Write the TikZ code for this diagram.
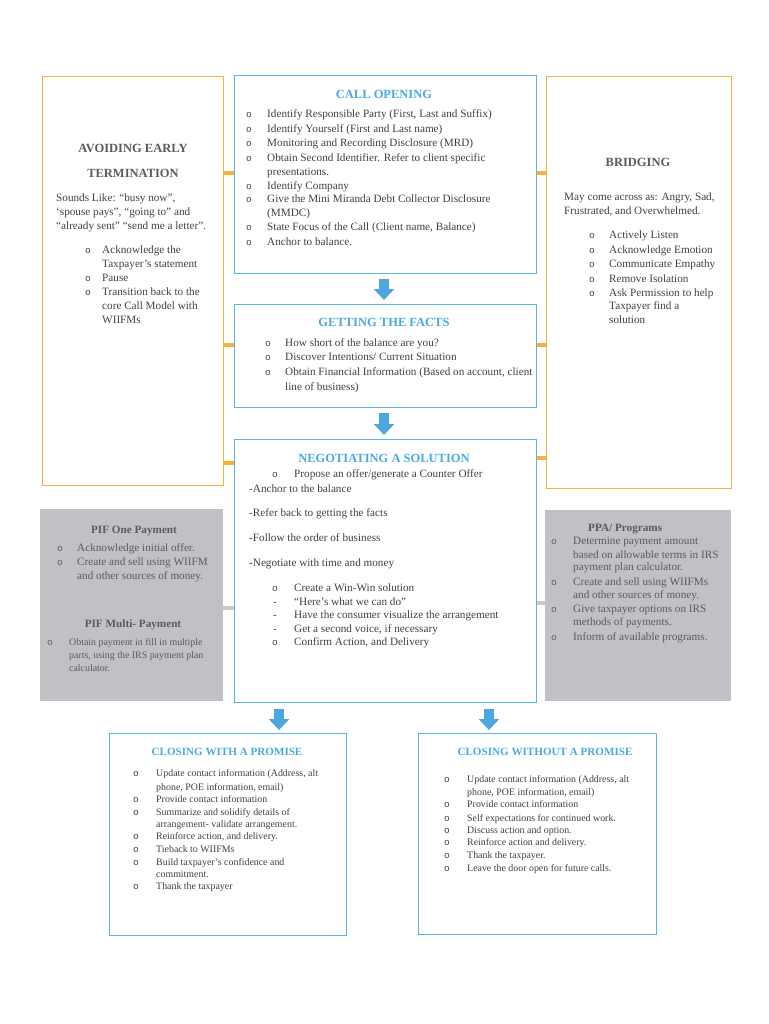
\documentclass[tikz,border=0pt]{standalone}
\usepackage{fontspec}
\setmainfont{Liberation Serif}
\newfontfamily\bulletfont{Liberation Mono}
\usetikzlibrary{arrows.meta}
\definecolor{orng}{HTML}{F4B43C}
\definecolor{bord}{HTML}{5AB4E6}
\definecolor{ttlblue}{HTML}{4AAAE0}
\definecolor{arrblue}{HTML}{4BA7DD}
\definecolor{gfill}{HTML}{C0C0C5}
\definecolor{gtick}{HTML}{C8C8CC}
\definecolor{body}{HTML}{404040}
\definecolor{gtitle}{HTML}{5A5A64}
\newcounter{tnum}
\tikzset{
  txt/.style={anchor=base west, inner sep=0pt, text=body, font=\fontsize{11.2}{13}\selectfont},
  sml/.style={font=\fontsize{9.9}{11}\selectfont},
  ttl/.style={anchor=base, inner sep=0pt, font=\bfseries\fontsize{12.5}{14}\selectfont},
  subttl/.style={font=\bfseries\fontsize{11.2}{13}\selectfont},
  obox/.style={draw=orng, line width=0.9pt, anchor=north west, inner sep=0pt},
  bbox/.style={draw=bord, line width=0.9pt, anchor=north west, inner sep=0pt},
  gbox/.style={fill=gfill, draw=none, anchor=north west, inner sep=0pt},
  otick/.style={draw=orng, line width=4pt},
  gtk/.style={draw=gtick, line width=4pt},
  barrow/.style={draw=arrblue, line width=10pt, -{Triangle[width=20pt,length=11pt]}}
}
\newcommand\putline[4][]{\stepcounter{tnum}\node[txt,#1] (t\thetnum) at (#2,#3+3.8) {#4};}
\newcommand\putttl[4][]{\stepcounter{tnum}\node[ttl,#1] (t\thetnum) at (#2,#3+4.3) {#4};}
\newcommand\bul{{\bulletfont\fontsize{9.5}{10}\selectfont o}}
\newcommand\bitem[5][]{\putline[#1]{#2}{#4}{\bul}\putline[#1]{#3}{#4}{#5}}
\begin{document}
\begin{tikzpicture}[x=1pt,y=-1pt]
\useasboundingbox (0,0) rectangle (768,1024);
% boxes
\node[obox, minimum width=181pt, minimum height=409pt] (avoid) at (42,76) {};
\node[bbox, minimum width=302pt, minimum height=198pt] (call) at (234,75) {};
\node[obox, minimum width=185pt, minimum height=412pt] (bridge) at (546,76) {};
\node[bbox, minimum width=302pt, minimum height=103pt] (facts) at (234,304) {};
\node[bbox, minimum width=302pt, minimum height=263pt] (neg) at (234,439) {};
\node[gbox, minimum width=183pt, minimum height=192pt] (pif) at (40,509) {};
\node[gbox, minimum width=186pt, minimum height=191pt] (ppa) at (545,510) {};
\node[bbox, minimum width=237pt, minimum height=202pt] (cwith) at (109,733) {};
\node[bbox, minimum width=238pt, minimum height=201pt] (cwo) at (418,733) {};
% connectors (ticks)
\coordinate (ya) at (0,173); \coordinate (yb) at (0,345);
\coordinate (yc) at (0,463); \coordinate (yd) at (0,458);
\coordinate (ye) at (0,608); \coordinate (yf) at (0,603);
\draw[otick] (avoid.east |- ya) -- (call.west |- ya);
\draw[otick] (avoid.east |- yb) -- (facts.west |- yb);
\draw[otick] (avoid.east |- yc) -- (neg.west |- yc);
\draw[otick] (call.east |- ya) -- (bridge.west |- ya);
\draw[otick] (facts.east |- yb) -- (bridge.west |- yb);
\draw[otick] (neg.east |- yd) -- (bridge.west |- yd);
\draw[gtk] (pif.east |- ye) -- (neg.west |- ye);
\draw[gtk] (neg.east |- yf) -- (ppa.west |- yf);
% block arrows
\coordinate (xa) at (384,0); \coordinate (xb) at (279,0); \coordinate (xc) at (489,0);
\draw[barrow, shorten <=5pt, shorten >=4pt] (call.south -| xa) -- (facts.north -| xa);
\draw[barrow, shorten <=5pt, shorten >=4pt] (facts.south -| xa) -- (neg.north -| xa);
\draw[barrow, shorten <=6pt, shorten >=3pt] (neg.south -| xb) -- (cwith.north -| xb);
\draw[barrow, shorten <=6pt, shorten >=3pt] (neg.south -| xc) -- (cwo.north -| xc);
% AVOIDING
\putttl[text=gtitle]{133}{148}{AVOIDING EARLY}
\putttl[text=gtitle]{133}{173}{TERMINATION}
\putline{56}{198}{Sounds Like: “busy now”,}
\putline{56}{212}{‘spouse pays”, “going to” and}
\putline{56}{226}{“already sent” “send me a letter”.}
\bitem{85}{102}{250}{Acknowledge the}
\putline{102}{264}{Taxpayer’s statement}
\bitem{85}{102}{278}{Pause}
\bitem{85}{102}{292}{Transition back to the}
\putline{102}{306}{core Call Model with}
\putline{102}{320}{WIIFMs}
% CALL OPENING
\putttl[text=ttlblue]{384}{94}{CALL OPENING}
\bitem{246}{267}{114}{Identify Responsible Party (First, Last and Suffix)}
\bitem{246}{267}{129}{Identify Yourself (First and Last name)}
\bitem{246}{267}{143}{Monitoring and Recording Disclosure (MRD)}
\bitem{246}{267}{158}{Obtain Second Identifier. Refer to client specific}
\putline{267}{172}{presentations.}
\bitem{246}{267}{186}{Identify Company}
\bitem{246}{267}{199}{Give the Mini Miranda Debt Collector Disclosure}
\putline{267}{213}{(MMDC)}
\bitem{246}{267}{227}{State Focus of the Call (Client name, Balance)}
\bitem{246}{267}{242}{Anchor to balance.}
% BRIDGING
\putttl[text=gtitle]{638}{162}{BRIDGING}
\putline{564}{197}{May come across as: Angry, Sad,}
\putline{564}{211}{Frustrated, and Overwhelmed.}
\bitem{589}{609}{235}{Actively Listen}
\bitem{589}{609}{250}{Acknowledge Emotion}
\bitem{589}{609}{264}{Communicate Empathy}
\bitem{589}{609}{279}{Remove Isolation}
\bitem{589}{609}{293}{Ask Permission to help}
\putline{609}{306}{Taxpayer find a}
\putline{609}{320}{solution}
% GETTING THE FACTS
\putttl[text=ttlblue]{384}{322}{GETTING THE FACTS}
\bitem{265}{285}{343}{How short of the balance are you?}
\bitem{265}{285}{357}{Discover Intentions/ Current Situation}
\bitem{265}{285}{372}{Obtain Financial Information (Based on account, client}
\putline{285}{387}{line of business)}
% NEGOTIATING
\putttl[text=ttlblue]{384}{458}{NEGOTIATING A SOLUTION}
\bitem{272}{294}{474}{Propose an offer/generate a Counter Offer}
\putline{249}{489}{-Anchor to the balance}
\putline{249}{513}{-Refer back to getting the facts}
\putline{249}{538}{-Follow the order of business}
\putline{249}{563}{-Negotiate with time and money}
\bitem{272}{294}{588}{Create a Win-Win solution}
\putline{273}{602}{-}\putline{294}{602}{“Here’s what we can do”}
\putline{273}{615}{-}\putline{294}{615}{Have the consumer visualize the arrangement}
\putline{273}{629}{-}\putline{294}{629}{Get a second voice, if necessary}
\bitem{272}{294}{642}{Confirm Action, and Delivery}
% PIF
\putttl[text=gtitle,subttl]{134}{529}{PIF One Payment}
\bitem[text=gtitle]{57}{77}{548}{Acknowledge initial offer.}
\bitem[text=gtitle]{57}{77}{562}{Create and sell using WIIFM}
\putline[text=gtitle]{77}{576}{and other sources of money.}
\putttl[text=gtitle,subttl]{133}{623}{PIF Multi- Payment}
\bitem[text=gtitle,sml]{47}{69}{642}{Obtain payment in fill in multiple}
\putline[text=gtitle,sml]{69}{655}{parts, using the IRS payment plan}
\putline[text=gtitle,sml]{69}{668}{calculator.}
% PPA
\putline[text=gtitle,subttl]{588}{528}{PPA/ Programs}
\bitem[text=gtitle]{551}{573}{541}{Determine payment amount}
\putline[text=gtitle]{573}{555}{based on allowable terms in IRS}
\putline[text=gtitle]{573}{567}{payment plan calculator.}
\bitem[text=gtitle]{551}{573}{582}{Create and sell using WIIFMs}
\putline[text=gtitle]{573}{595}{and other sources of money.}
\bitem[text=gtitle]{551}{573}{609}{Give taxpayer options on IRS}
\putline[text=gtitle]{573}{622}{methods of payments.}
\bitem[text=gtitle]{551}{573}{637}{Inform of available programs.}
% CLOSING WITH
\putttl[text=ttlblue,font=\bfseries\fontsize{11.1}{13}\selectfont]{227}{751}{CLOSING WITH A PROMISE}
\bitem[sml]{133}{156}{773}{Update contact information (Address, alt}
\putline[sml]{156}{787}{phone, POE information, email)}
\bitem[sml]{133}{156}{799}{Provide contact information}
\bitem[sml]{133}{156}{812}{Summarize and solidify details of}
\putline[sml]{156}{824}{arrangement- validate arrangement.}
\bitem[sml]{133}{156}{836}{Reinforce action, and delivery.}
\bitem[sml]{133}{156}{849}{Tieback to WIIFMs}
\bitem[sml]{133}{156}{862}{Build taxpayer’s confidence and}
\putline[sml]{156}{874}{commitment.}
\bitem[sml]{133}{156}{886}{Thank the taxpayer}
% CLOSING WITHOUT
\putttl[text=ttlblue,font=\bfseries\fontsize{11.1}{13}\selectfont]{545}{751}{CLOSING WITHOUT A PROMISE}
\bitem[sml]{444}{467}{779}{Update contact information (Address, alt}
\putline[sml]{467}{792}{phone, POE information, email)}
\bitem[sml]{444}{467}{804}{Provide contact information}
\bitem[sml]{444}{467}{818}{Self expectations for continued work.}
\bitem[sml]{444}{467}{830}{Discuss action and option.}
\bitem[sml]{444}{467}{842}{Reinforce action and delivery.}
\bitem[sml]{444}{467}{855}{Thank the taxpayer.}
\bitem[sml]{444}{467}{868}{Leave the door open for future calls.}
\end{tikzpicture}
\end{document}
